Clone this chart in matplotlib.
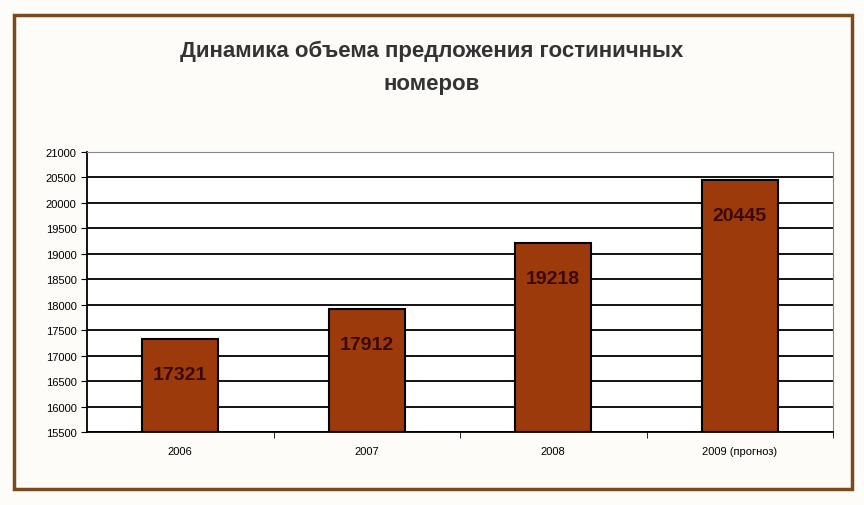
import matplotlib
matplotlib.use("Agg")
import matplotlib.pyplot as plt
from matplotlib.patches import Rectangle

categories = ["2006", "2007", "2008", "2009 (прогноз)"]
values = [17321, 17912, 19218, 20445]
yticks = list(range(15500, 21001, 500))

fig = plt.figure(figsize=(8.64, 5.06), dpi=100)
fig.patch.set_facecolor("#fdfcf9")
fig.patches.append(Rectangle((14/864, 16/506), 838/864, 474/506, transform=fig.transFigure,
                             fill=False, edgecolor="#7a4a1e", linewidth=2.5))
fig.text(0.5, 0.866, "Динамика объема предложения гостиничных\nномеров", ha="center", va="center",
         fontsize=16, fontweight="bold", color="#333333", family=["Liberation Sans", "DejaVu Sans"],
         linespacing=1.7)

ax = fig.add_axes([87/864, 73/506, 746/864, 280/506])
ax.set_facecolor("white")
x = range(len(categories))
ax.bar(x, [v - 15500 for v in values], bottom=15500, width=0.41, color="#9c3a0c",
       edgecolor="black", linewidth=1.5, zorder=3)
for i, v in zip(x, values):
    ax.text(i, v - 700, str(v), ha="center", va="center", fontsize=14,
            fontweight="bold", color="#3a0a00", family=["Liberation Sans", "DejaVu Sans"], zorder=4)
ax.set_ylim(15500, 21000)
ax.set_xlim(-0.5, 3.5)
ax.set_yticks(yticks)
ax.set_yticklabels([str(t) for t in yticks], fontsize=8, family=["Liberation Sans", "DejaVu Sans"])
ax.set_xticks(list(x))
ax.set_xticklabels(categories, fontsize=8, family=["Liberation Sans", "DejaVu Sans"])
ax.tick_params(axis="x", length=0, pad=10)
ax.set_xticks([0.5, 1.5, 2.5, 3.5], minor=True)
ax.tick_params(axis="x", which="minor", length=4, direction="out")
ax.tick_params(axis="y", length=4, direction="out")
ax.grid(axis="y", color="black", linewidth=1.3, zorder=0)
ax.spines["top"].set_color("#888888")
ax.spines["right"].set_color("#888888")
ax.spines["left"].set_linewidth(1.3)
ax.spines["bottom"].set_linewidth(1.3)
fig.savefig("out.png", dpi=100, facecolor=fig.get_facecolor())
